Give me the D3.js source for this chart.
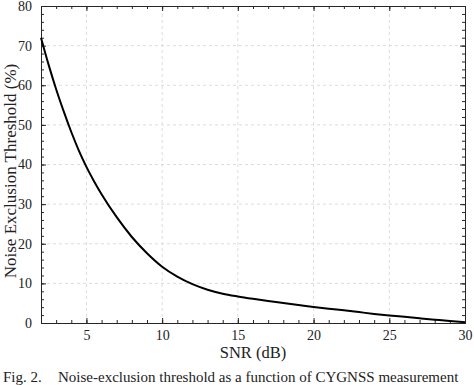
<!DOCTYPE html>
<html>
<head>
<meta charset="utf-8">
<script src="https://cdn.jsdelivr.net/npm/d3@7"></script>
<style>
  body { margin: 0; background: #fff; }
  svg { display: block; }
</style>
</head>
<body>
<svg id="chart" width="474" height="385"></svg>
<script>
// SNR (dB) and threshold (%)
const snr = [2, 2.5, 3, 3.5, 4, 4.5, 5, 5.5, 6, 7, 8, 9, 10, 11, 12, 13, 14, 15, 16, 17, 18, 19, 20, 21, 22, 23, 24, 25, 26, 27, 28, 29, 30]
const threshold = [72, 65.2, 59, 53.4, 48.2, 43.5, 39.4, 35.8, 32.5, 26.7, 21.7, 17.6, 14.2, 11.7, 9.8, 8.4, 7.4, 6.7, 6.1, 5.55, 5.05, 4.55, 4.05, 3.6, 3.2, 2.75, 2.3, 1.9, 1.55, 1.2, 0.85, 0.5, 0.2]
const xTicks = [5, 10, 15, 20, 25, 30]
const yTicks = [0, 10, 20, 30, 40, 50, 60, 70, 80]

const margin = {top: 6, right: 9, bottom: 62, left: 41}
const width = 474, height = 385
const svg = d3.select("#chart")

const x = d3.scaleLinear().domain([2, 30]).range([margin.left, width - margin.right])
const y = d3.scaleLinear().domain([0, 80]).range([height - margin.bottom, margin.top])

const serif = "'Liberation Serif', 'Times New Roman', serif"
const axisColor = "#262626"

// grid lines (dashed, light)
svg.append("g")
  .selectAll("line")
  .data(xTicks.filter(d => d < 30))
  .join("line")
  .attr("x1", d => x(d)).attr("x2", d => x(d))
  .attr("y1", y(0)).attr("y2", y(80))
  .attr("stroke", "#dcdcdc").attr("stroke-dasharray", "3,3")

svg.append("g")
  .selectAll("line")
  .data(yTicks.filter(d => d > 0 && d < 80))
  .join("line")
  .attr("y1", d => y(d)).attr("y2", d => y(d))
  .attr("x1", x(2)).attr("x2", x(30))
  .attr("stroke", "#dcdcdc").attr("stroke-dasharray", "3,3")

// axes: ticks point inward, box on all four sides
function styleAxis(g) {
  g.select(".domain").attr("stroke", axisColor)
  g.selectAll(".tick line").attr("stroke", axisColor)
  g.selectAll(".tick text")
    .attr("fill", "#222")
    .style("font-family", serif)
    .style("font-size", "14px")
}

const xMinor = d3.range(2, 31, 1)
const yMinor = d3.range(0, 81, 2)

// bottom
svg.append("g").attr("transform", `translate(0,${y(0)})`)
  .call(d3.axisBottom(x).tickValues(xMinor).tickSize(-3).tickFormat(""))
  .call(styleAxis)
svg.append("g").attr("transform", `translate(0,${y(0)})`)
  .call(d3.axisBottom(x).tickValues(xTicks).tickSizeInner(-5).tickSizeOuter(0).tickPadding(7).tickFormat(d3.format("d")))
  .call(styleAxis)
// top
svg.append("g").attr("transform", `translate(0,${y(80)})`)
  .call(d3.axisTop(x).tickValues(xMinor).tickSize(-3).tickFormat(""))
  .call(styleAxis)
svg.append("g").attr("transform", `translate(0,${y(80)})`)
  .call(d3.axisTop(x).tickValues(xTicks).tickSize(-5).tickFormat(""))
  .call(styleAxis)
// left
svg.append("g").attr("transform", `translate(${x(2)},0)`)
  .call(d3.axisLeft(y).tickValues(yMinor).tickSize(-3).tickFormat(""))
  .call(styleAxis)
svg.append("g").attr("transform", `translate(${x(2)},0)`)
  .call(d3.axisLeft(y).tickValues(yTicks).tickSizeInner(-5).tickSizeOuter(0).tickPadding(9).tickFormat(d3.format("d")))
  .call(styleAxis)
// right
svg.append("g").attr("transform", `translate(${x(30)},0)`)
  .call(d3.axisRight(y).tickValues(yMinor).tickSize(-3).tickFormat(""))
  .call(styleAxis)
svg.append("g").attr("transform", `translate(${x(30)},0)`)
  .call(d3.axisRight(y).tickValues(yTicks).tickSize(-5).tickFormat(""))
  .call(styleAxis)

// the curve
const line = d3.line()
  .x((d, i) => x(snr[i]))
  .y(d => y(d))
  .curve(d3.curveMonotoneX)

svg.append("path")
  .datum(threshold)
  .attr("d", line)
  .attr("fill", "none")
  .attr("stroke", "#000")
  .attr("stroke-width", 2)

// axis labels
svg.append("text")
  .text("SNR (dB)")
  .attr("x", (x(2) + x(30)) / 2)
  .attr("y", 358)
  .attr("text-anchor", "middle")
  .attr("fill", "#222")
  .style("font-family", serif)
  .style("font-size", "16.5px")

svg.append("text")
  .text("Noise Exclusion Threshold (%)")
  .attr("transform", "translate(16,171) rotate(-90)")
  .attr("text-anchor", "middle")
  .attr("fill", "#222")
  .style("font-family", serif)
  .style("font-size", "17px")

// caption at the bottom edge, as in the source figure
svg.append("text")
  .text("Fig. 2.")
  .attr("x", 3).attr("y", 382)
  .attr("fill", "#222")
  .style("font-family", serif)
  .style("font-size", "15px")
svg.append("text")
  .text("Noise-exclusion threshold as a function of CYGNSS measurement")
  .attr("x", 58).attr("y", 382)
  .attr("fill", "#222")
  .style("font-family", serif)
  .style("font-size", "15px")
</script>
</body>
</html>
